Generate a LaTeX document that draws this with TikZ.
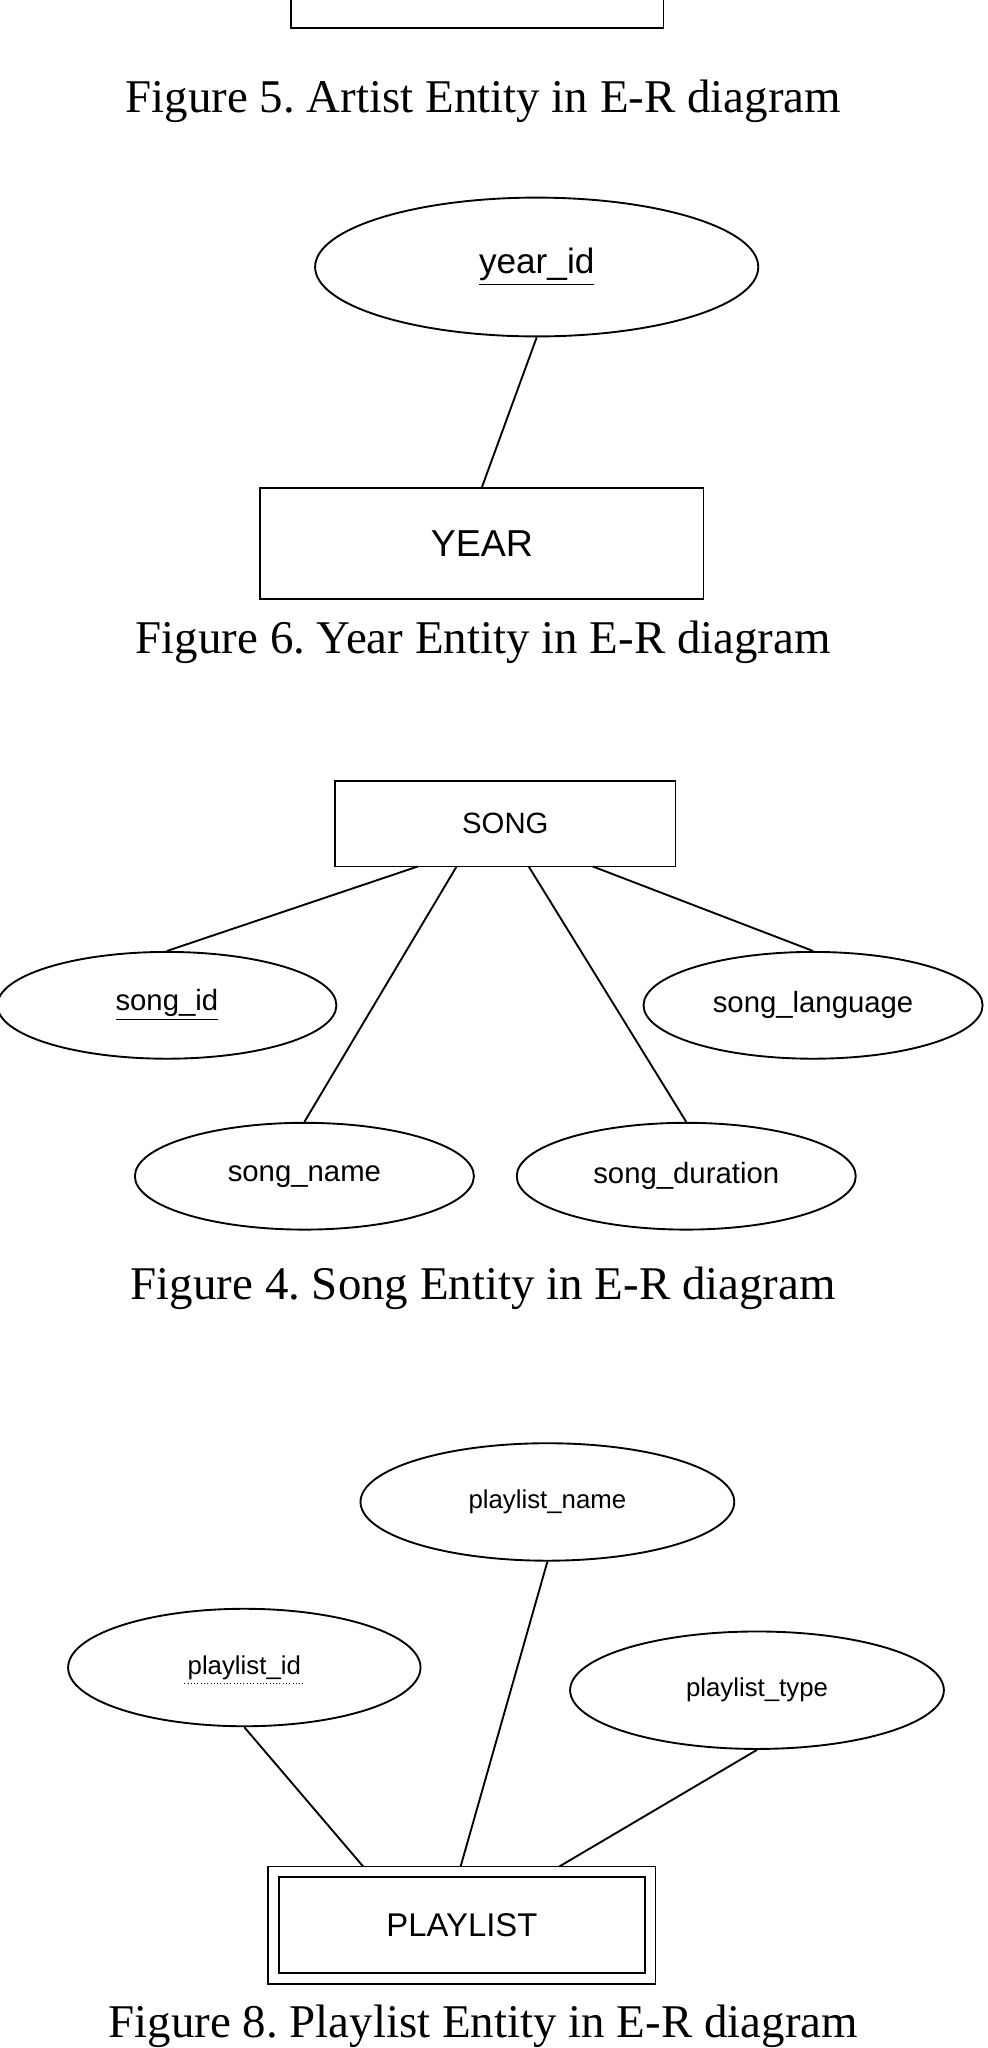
\documentclass[tikz,border=0pt]{standalone}
\usepackage{fontspec}
\setmainfont{Liberation Serif}
\setsansfont{Liberation Sans}
\usetikzlibrary{shapes.geometric}
\frenchspacing
\begin{document}
\begin{tikzpicture}[x=0.02cm,y=-0.02cm,
  ent/.style={draw,thick,inner sep=0pt,font=\sffamily},
  attr/.style={draw,thick,ellipse,inner sep=0pt,font=\sffamily},
  figcap/.style={font=\fontsize{20}{22}\selectfont},
  conn/.style={thick}]
\useasboundingbox (0,0) rectangle (740,1534);
\begin{scope}
\clip (0,0) rectangle (740,1534);
\draw[thick] (218,-20) rectangle (497,21);
\end{scope}
\node[figcap] (c5) at (362,76) {Figure 5. Artist Entity in E-R diagram};
% Year
\node[attr,minimum width=6.64cm,minimum height=2.08cm,font=\sffamily\fontsize{15}{18}\selectfont] (yid) at (402,200) {\underline{year\_id}};
\node[ent,minimum width=6.64cm,minimum height=1.66cm,font=\sffamily\fontsize{16}{18}\selectfont] (year) at (361,407) {YEAR};
\draw[conn] (yid.south) -- (year.north);
\node[figcap] (c6) at (362,481) {Figure 6. Year Entity in E-R diagram};
% Song
\node[ent,minimum width=5.1cm,minimum height=1.28cm,font=\sffamily\fontsize{12.5}{15}\selectfont] (song) at (378.5,617) {SONG};
\tikzset{sattr/.style={attr,minimum width=5.08cm,minimum height=1.6cm,font=\sffamily\fontsize{12.5}{15}\selectfont}}
\node[sattr] (sid) at (125,753) {\underline{song\_id}};
\node[sattr] (slang) at (609,753) {song\_language};
\node[sattr] (sname) at (228,881) {song\_name};
\node[sattr] (sdur) at (514,881) {song\_duration};
\coordinate (s1) at (313,649); \coordinate (s2) at (342,649);
\coordinate (s3) at (396,649); \coordinate (s4) at (444,649);
\draw[conn] (s1) -- (sid.north);
\draw[conn] (s2) -- (sname.north);
\draw[conn] (s3) -- (sdur.north);
\draw[conn] (s4) -- (slang.north);
\node[figcap] (c4) at (362,965) {Figure 4. Song Entity in E-R diagram};
% Playlist
\tikzset{pattr/.style={attr,minimum height=1.76cm,font=\sffamily\fontsize{11}{13}\selectfont}}
\node[pattr,minimum width=5.6cm] (pname) at (410,1125) {playlist\_name};
\node[pattr,minimum width=5.28cm] (pid) at (183,1249) {playlist\_id};
\draw[densely dotted] ([yshift=-0.24cm]pid.center) ++(-0.9cm,0) -- ++(1.8cm,0);
\node[pattr,minimum width=5.6cm] (ptype) at (567,1266) {playlist\_type};
\node[ent,minimum width=5.8cm,minimum height=1.76cm,font=\sffamily\fontsize{14}{16}\selectfont] (pl) at (346,1442) {PLAYLIST};
\draw[thick] (209,1406) rectangle (483,1478);
\coordinate (p1) at (272,1398); \coordinate (p2) at (345,1398); \coordinate (p3) at (419,1398);
\draw[conn] (pid.south) -- (p1);
\draw[conn] (pname.south) -- (p2);
\draw[conn] (ptype.south) -- (p3);
\node[figcap] (c8) at (362,1518) {Figure 8. Playlist Entity in E-R diagram};
\end{tikzpicture}
\end{document}
